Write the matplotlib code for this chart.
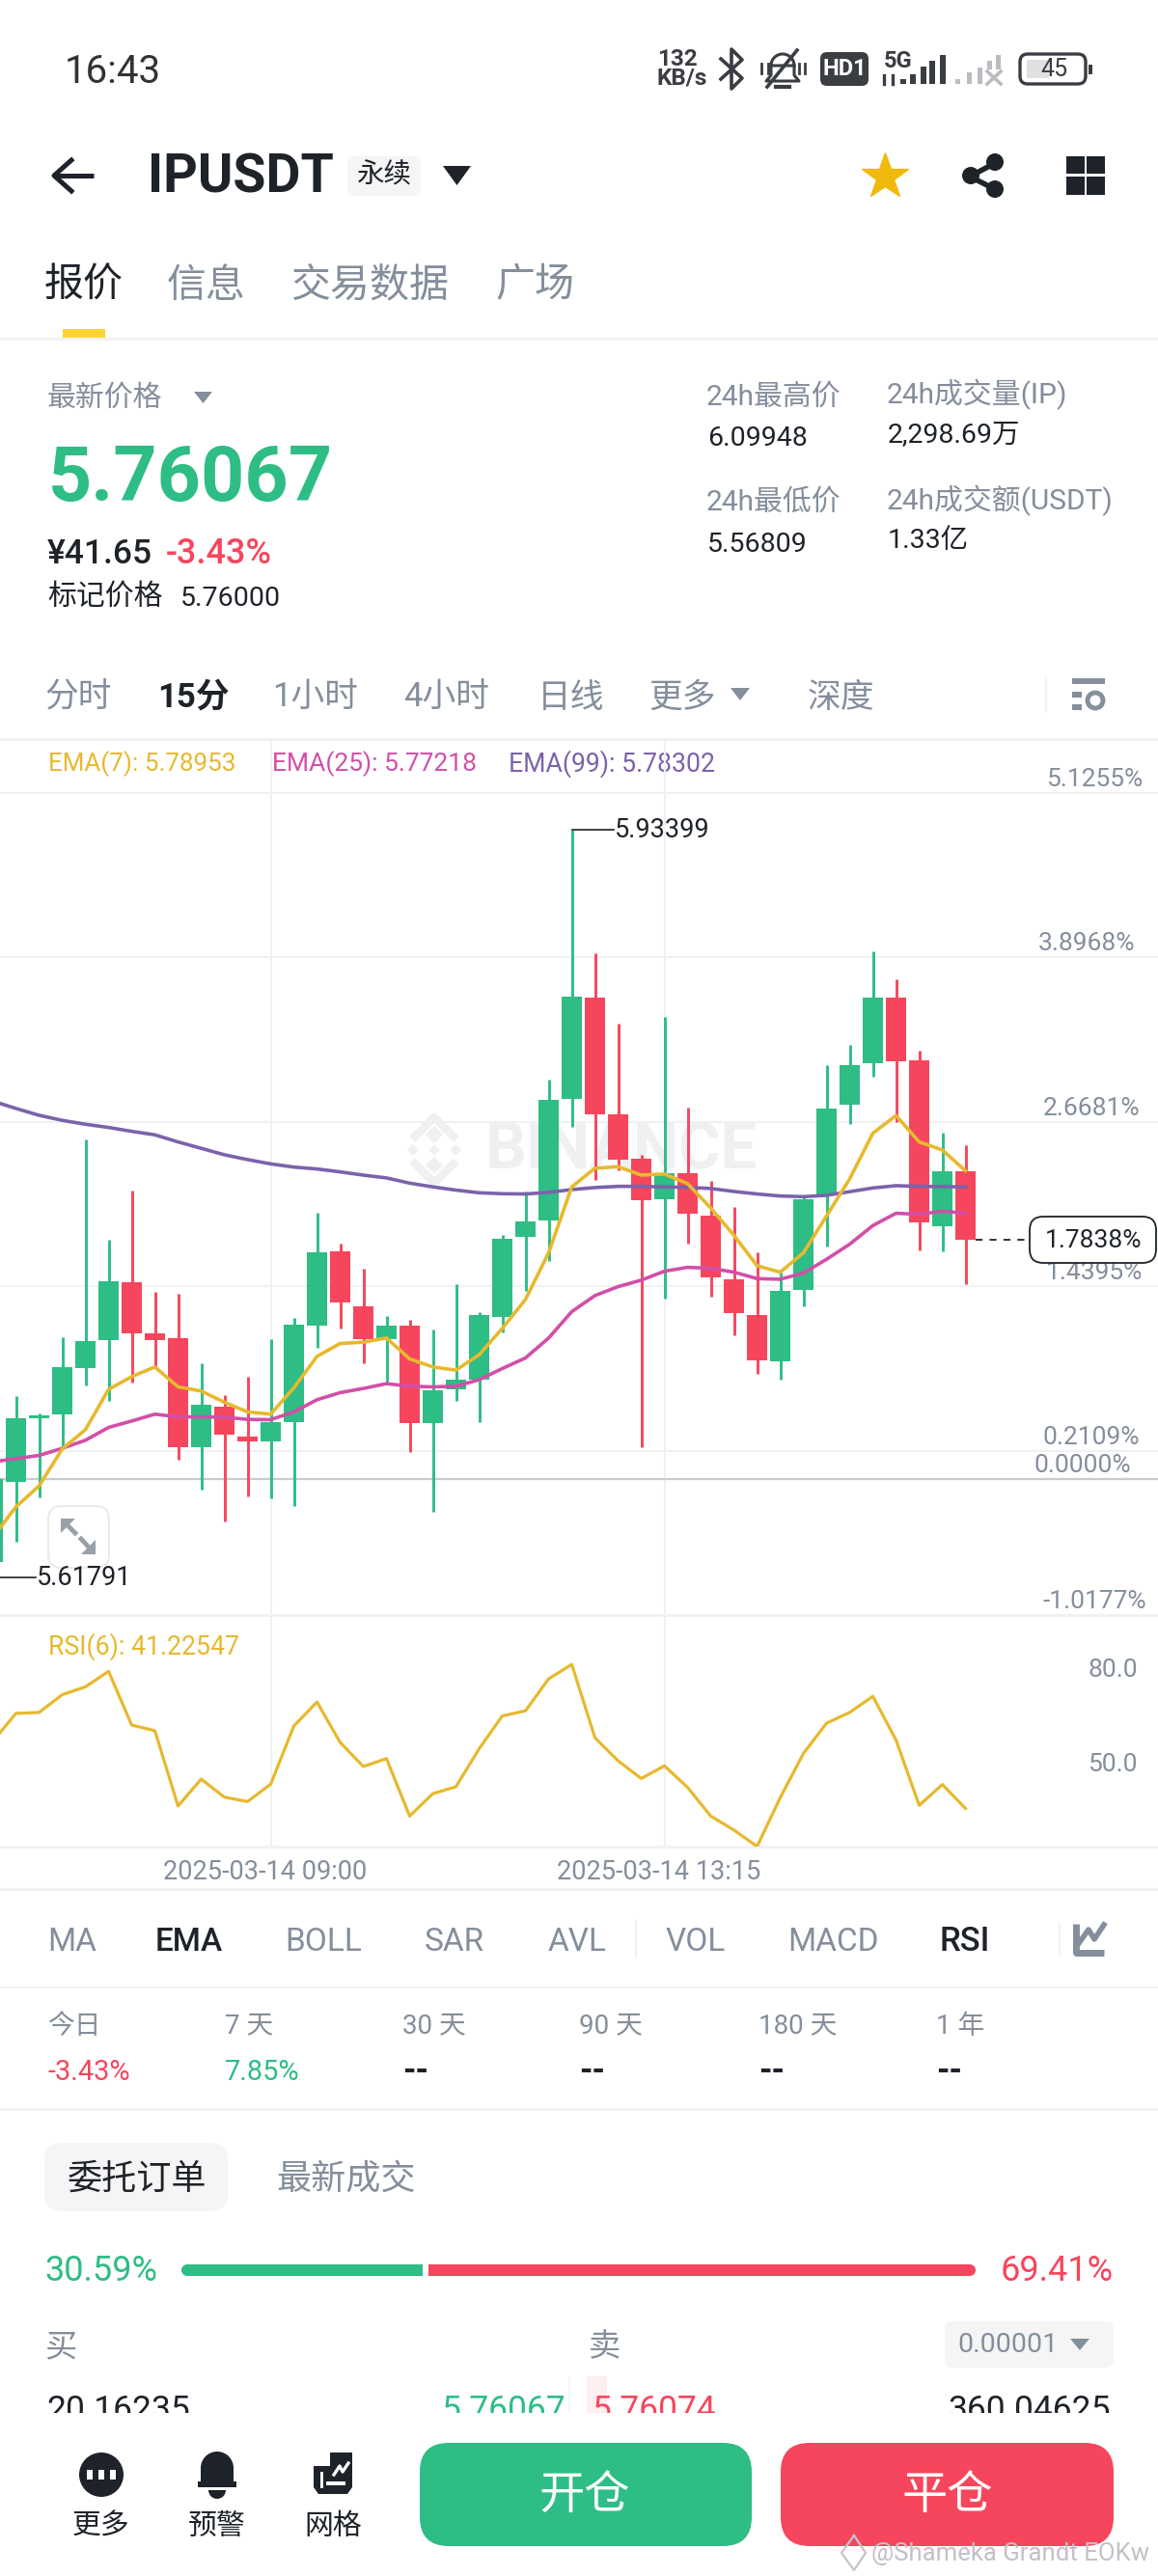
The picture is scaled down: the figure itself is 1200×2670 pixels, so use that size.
import matplotlib
matplotlib.use('Agg')
import matplotlib.pyplot as plt
from matplotlib.patches import FancyBboxPatch, Rectangle, Polygon, Circle, Wedge
from matplotlib.transforms import ScaledTranslation

plt.rcParams['font.family'] = ['Roboto', 'Noto Sans CJK SC', 'DejaVu Sans']

# candles, % change
highs = [0.05, 0.620, 0.492, 1.057, 2.536, 1.784, 2.157, 1.400, 1.383, 0.865, 0.624, 0.759, 1.047, 1.201, 1.988,
         1.758, 1.568, 1.220, 1.189, 1.119, 1.453, 1.244, 1.825, 2.145, 2.985, 4.846, 3.929, 3.401, 2.421, 3.453,
         2.776, 2.224, 2.032, 1.695, 1.544, 2.113, 3.093, 3.242, 3.938, 3.730, 3.201, 2.589, 2.493]
lows = [-0.739, -0.473, -0.137, 0.223, 0.696, 0.584, 0.716, 0.836, 0.144, -0.082, -0.317, -0.130, -0.142, -0.202, 0.980,
        1.124, 0.867, 0.720, 0.199, -0.245, 0.584, 0.427, 1.093, 1.405, 1.628, 2.632, 2.236, 2.305, 0.240, 1.345,
        1.758, 1.364, 1.071, 0.783, 0.740, 1.287, 1.734, 2.649, 3.004, 2.668, 1.707, 1.700, 1.455]
opens = [-0.622, -0.024, 0.451, 0.480, 0.824, 1.040, 1.472, 1.088, 1.052, 0.240, 0.540, 0.317, 0.279, 0.427, 1.148,
         1.700, 1.292, 1.047, 1.148, 0.415, 0.672, 0.740, 1.213, 1.808, 1.933, 2.836, 3.597, 2.726, 2.392, 2.089,
         2.281, 1.964, 1.489, 1.227, 0.879, 1.412, 2.121, 2.798, 3.105, 3.597, 3.124, 1.888, 2.301]
closes = [0.0, 0.451, 0.475, 0.836, 1.028, 1.479, 1.088, 1.037, 0.240, 0.552, 0.331, 0.279, 0.423, 1.153, 1.695,
          1.316, 1.047, 1.148, 0.415, 0.663, 0.740, 1.227, 1.792, 1.924, 2.829, 3.605, 2.726, 2.385, 2.080, 2.281,
          1.984, 1.508, 1.239, 0.884, 1.407, 2.089, 2.769, 3.088, 3.597, 3.117, 1.916, 2.301, 1.784]

ema7 = [-0.437, -0.209, -0.053, 0.223, 0.367, 0.668, 0.764, 0.836, 0.687, 0.656, 0.572, 0.500, 0.483, 0.680, 0.915,
        1.011, 1.021, 1.052, 0.896, 0.836, 0.812, 0.927, 1.124, 1.340, 1.688, 2.181, 2.320, 2.332, 2.269, 2.277,
        2.205, 2.024, 1.820, 1.592, 1.544, 1.688, 1.964, 2.241, 2.582, 2.714, 2.517, 2.457, 2.301]
ema25 = [0.127, 0.151, 0.175, 0.228, 0.288, 0.384, 0.432, 0.483, 0.463, 0.463, 0.461, 0.444, 0.442, 0.500, 0.591,
         0.644, 0.675, 0.711, 0.692, 0.687, 0.692, 0.740, 0.824, 0.903, 1.052, 1.249, 1.369, 1.436, 1.484, 1.551,
         1.580, 1.573, 1.544, 1.496, 1.491, 1.537, 1.640, 1.753, 1.892, 1.984, 1.976, 2.000, 1.984]
ema99 = [2.822, 2.767, 2.716, 2.678, 2.649, 2.625, 2.596, 2.570, 2.517, 2.469, 2.421, 2.385, 2.353, 2.329, 2.315,
         2.293, 2.269, 2.248, 2.209, 2.181, 2.157, 2.137, 2.130, 2.128, 2.140, 2.161, 2.176, 2.185, 2.185, 2.181,
         2.178, 2.169, 2.147, 2.128, 2.113, 2.108, 2.118, 2.145, 2.173, 2.190, 2.185, 2.183, 2.181]
rsi6 = [62.4, 71.3, 71.6, 77.2, 79.7, 84.6, 67.6, 65.8, 42.0, 50.5, 44.8, 43.4, 48.9, 67.3, 74.9,
        62.1, 54.5, 57.0, 38.8, 45.9, 48.1, 60.1, 70.5, 72.1, 82.2, 86.8, 63.6, 56.3, 50.7, 54.7,
        47.9, 38.8, 34.4, 29.2, 44.6, 58.6, 68.2, 71.6, 76.7, 62.9, 42.2, 48.8, 41.23]

pct_ticks = [5.1255, 3.8968, 2.6681, 1.4395, 0.2109, 0.0, -1.0177]
pct_labels = ['5.1255%', '3.8968%', '2.6681%', '1.4395%', '0.2109%', '0.0000%', '-1.0177%']
pct_label_right = [1184, 1176, 1181, 1184, 1181, 1172, 1188]
rsi_ticks = [80, 50]
time_ticks = [12, 29]
time_labels = ['2025-03-14 09:00', '2025-03-14 13:15']
last_pct = 1.7838
high_pct, high_label = 4.846, '5.93399'
low_pct, low_label = -0.739, '5.61791'

interval_tabs = ['分时', '15分', '1小时', '4小时', '日线', '更多', '深度']
interval_x = [46, 163, 282, 418, 557, 672, 837]
indicators = ['MA', 'EMA', 'BOLL', 'SAR', 'AVL', 'VOL', 'MACD', 'RSI']
indicator_x = [49, 161, 295, 440, 568, 690, 816, 974]
period_names = ['今日', '7 天', '30 天', '90 天', '180 天', '1 年']
period_values = ['-3.43%', '7.85%', '--', '--', '--', '--']
period_x = [49, 233, 417, 600, 786, 970]
buy_pct, sell_pct = 30.59, 69.41

GREEN = '#2ebd85'
RED = '#f6465d'
DARK = '#1e2329'
GREY = '#848e9c'
GRID = '#f0f1f2'
YEL = '#e6b92e'
PINK = '#d24fa8'
PURP = '#7c62ab'

fig = plt.figure(figsize=(12, 26.7), dpi=100, facecolor='white')

# page layer in screen pixels
ui = fig.add_axes([0, 0, 1, 1])
ui.set_xlim(0, 1200)
ui.set_ylim(2670, 0)
ui.axis('off')


def txt(x, y, s, size=21, color=DARK, ha='left', weight='normal', z=5, **kw):
    # +3, text boxes sit a bit high against the screenshot
    return ui.text(x, y + 3, s, fontsize=size, color=color, ha=ha, va='center', fontweight=weight, zorder=z, **kw)


def box(x0, y0, x1, y1, color, r=8, z=2, on=None, **kw):
    p = FancyBboxPatch((x0 + r, y0 + r), x1 - x0 - 2 * r, y1 - y0 - 2 * r, boxstyle='round,pad=%g,rounding_size=%g' % (r, r),
                       fc=color, ec=kw.pop('ec', 'none'), zorder=z, **kw)
    (on or ui).add_patch(p)


def tri(x0, x1, y0, y1, color):
    ui.add_patch(Polygon([(x0, y0), (x1, y0), ((x0 + x1) / 2, y1)], fc=color, ec='none', zorder=3))


def hr(y, lw=2.0, color=GRID):
    ui.plot([0, 1200], [y, y], color=color, lw=lw, zorder=1, solid_capstyle='butt')


# status bar
txt(67, 72, '16:43', size=29, color='#333333')
txt(681, 58, '132', size=17.5, color='#3a3d42', weight='bold')
txt(681, 78, 'KB/s', size=17.5, color='#3a3d42', weight='bold')
ui.plot([747, 769, 758, 758, 769, 747], [61, 81, 92, 51, 62, 82], color='#3a3d42', lw=2.6, zorder=3)
ui.add_patch(Wedge((811, 68), 12, 180, 360, fc='none', ec='#3a3d42', lw=2.2, zorder=3))
ui.plot([799, 799, 794, 828, 823, 823], [68, 78, 84, 84, 78, 68], color='#3a3d42', lw=2.2, zorder=3)
ui.plot([795, 826], [90, 52], color='#3a3d42', lw=2.6, zorder=3)
ui.plot([804, 818], [90, 90], color='#3a3d42', lw=3, zorder=3)
for sx in [789, 796, 828, 834]:
    ui.plot([sx, sx], [66, 76], color='#3a3d42', lw=2, zorder=3)
box(850, 54, 900, 89, '#3a3d42', r=7)
txt(875, 68, 'HD1', size=17, color='white', weight='bold', ha='center')
txt(916, 60, '5G', size=17, color='#3a3d42', weight='bold')
ui.plot([916, 916], [78, 87], color='#3a3d42', lw=2.4, zorder=3)
ui.plot([925, 925], [78, 87], color='#3a3d42', lw=2.4, zorder=3)
for bx, by in [(933, 82), (943, 77), (954, 69), (963, 63), (974, 57)]:
    ui.add_patch(Rectangle((bx, by), 6, 87 - by, fc='#3a3d42', ec='none', zorder=3))
for bx, by in [(990, 82), (1002, 75), (1013, 70), (1023, 63), (1032, 57)]:
    by1 = 72 if bx >= 1023 else 87
    ui.add_patch(Rectangle((bx, by), 5, by1 - by, fc='#b9bcc0', ec='none', zorder=3))
ui.plot([1023, 1037], [74, 87], color='#b9bcc0', lw=2.6, zorder=3)
ui.plot([1037, 1023], [74, 87], color='#b9bcc0', lw=2.6, zorder=3)
box(1057, 56, 1125, 87, 'white', r=8, ec='#3a3d42', lw=2.4)
ui.add_patch(Rectangle((1064, 62), 23, 19, fc='#dfe0e2', ec='none', zorder=3))
txt(1092, 69, '45', size=18, color='#3a3d42', ha='center')
ui.add_patch(Rectangle((1128, 67), 4, 10, fc='#3a3d42', ec='none', zorder=3))

# header
ui.plot([97, 58], [182, 182], color=DARK, lw=3.6, zorder=3, solid_capstyle='butt')
ui.plot([74, 56, 74], [166, 182, 198], color=DARK, lw=3.6, zorder=3)
txt(153, 181, 'IPUSDT', size=40, weight='bold')
box(360, 162, 436, 203, '#f5f5f5', r=6)
txt(398, 179, '永续', size=20.5, ha='center')
tri(459, 488, 172, 192, DARK)
ui.plot([917], [183], marker='*', ms=36, color='#f0b90b', mec='#f0b90b', zorder=3)
ui.plot([1033, 1005, 1033], [168, 183, 197], color=DARK, lw=4, zorder=3)
for cx, cy in [(1031, 168), (1006, 182), (1031, 196)]:
    ui.add_patch(Circle((cx, cy), 9, fc=DARK, ec='none', zorder=3))
for gx, gy, gh in [(1105, 162, 18), (1126, 162, 18), (1105, 183, 19), (1126, 183, 19)]:
    ui.add_patch(Rectangle((gx, gy), 19, gh, fc=DARK, ec='none', zorder=3))

# top tabs
txt(46, 293, '报价', size=29.5)
txt(173, 293, '信息', size=29.5, color=GREY)
txt(301, 293, '交易数据', size=29.5, color=GREY)
txt(513, 293, '广场', size=29.5, color=GREY)
ui.add_patch(Rectangle((65, 341), 44, 9, fc='#fcd535', ec='none', zorder=3))
hr(351, lw=2)

# price block
txt(49, 410, '最新价格', size=21.5, color=GREY)
tri(201, 220, 406, 418, GREY)
txt(50, 494, '5.76067', size=57, color=GREEN, weight='bold')
txt(49, 571, '¥41.65', size=25.5, weight='medium')
txt(172, 571, '-3.43%', size=26, color=RED, weight='medium')
txt(49, 616, '标记价格', size=21.5)
txt(187, 617, '5.76000', size=20.5)
txt(732, 409, '24h最高价', size=21.5, color=GREY)
txt(919, 406, '24h成交量(IP)', size=21.5, color=GREY)
txt(733, 452, '6.09948', size=20.5)
txt(920, 448, '2,298.69万', size=20.5)
txt(732, 518, '24h最低价', size=21.5, color=GREY)
txt(919, 516, '24h成交额(USDT)', size=21.5, color=GREY)
txt(733, 562, '5.56809', size=20.5)
txt(920, 558, '1.33亿', size=20.5)

# interval row
for name, x in zip(interval_tabs, interval_x):
    active = name == '15分'
    txt(x, 720, name, size=25, color=DARK if active else GREY, weight='bold' if active else 'normal')
tri(757, 777, 713, 726, GREY)
ui.plot([1084, 1084], [702, 738], color=GRID, lw=1.5, zorder=2)
ui.add_patch(Rectangle((1111, 703), 34, 6, fc=GREY, ec='none', zorder=3))
ui.add_patch(Rectangle((1111, 717), 10, 6, fc=GREY, ec='none', zorder=3))
ui.add_patch(Rectangle((1111, 730), 10, 6, fc=GREY, ec='none', zorder=3))
ui.add_patch(Circle((1135, 726), 8, fc='none', ec=GREY, lw=3.5, zorder=3))

# chart legend and watermark
txt(50, 789, 'EMA(7): 5.78953', size=18.7, color=YEL)
txt(282, 789, 'EMA(25): 5.77218', size=19, color=PINK)
txt(527, 789, 'EMA(99): 5.78302', size=19.2, color=PURP)
txt(50, 1704, 'RSI(6): 41.22547', size=19.2, color=YEL)
for dx, dy, s in [(450, 1176, 9), (450, 1208, 9), (428, 1192, 6), (472, 1192, 6), (450, 1192, 6)]:
    ui.add_patch(Polygon([(dx - s, dy), (dx, dy - s), (dx + s, dy), (dx, dy + s)], fc='#eef0f1', ec='none', zorder=1))
ui.plot([430, 450, 470], [1178, 1158, 1178], color='#eef0f1', lw=6, zorder=1)
ui.plot([430, 450, 470], [1206, 1226, 1206], color='#eef0f1', lw=6, zorder=1)
txt(503, 1191, 'BINANCE', size=48, color='#eef0f1', weight='bold', z=1)

# expand button
box(50, 1561, 113, 1625, 'white', r=14, ec='#e9eaec', lw=1.5)
ui.plot([66, 78], [1577, 1589], color='#9aa0a8', lw=3.5, zorder=3)
ui.plot([84, 96], [1595, 1608], color='#9aa0a8', lw=3.5, zorder=3)
ui.add_patch(Polygon([(63, 1574), (78, 1574), (63, 1589)], fc='#9aa0a8', ec='none', zorder=3))
ui.add_patch(Polygon([(99, 1611), (84, 1611), (99, 1596)], fc='#9aa0a8', ec='none', zorder=3))

# price panel, y axis is % and runs from the page px of each gridline
ax = fig.add_axes([0, 1 - 1674 / 2670, 1, (1674 - 766) / 2670], facecolor='none', zorder=2)
ax.set_xlim(0.3125, 50.3125)
ax.set_ylim(-1.0177, 5.5268)
for s in ax.spines.values():
    s.set_visible(False)
ax.spines['top'].set_visible(True)
ax.spines['top'].set_color(GRID)
ax.spines['top'].set_linewidth(2)
ax.spines['bottom'].set_visible(True)
ax.spines['bottom'].set_color(GRID)
ax.spines['bottom'].set_linewidth(2)
ax.set_yticks([t for t in pct_ticks if t != 0.0])
ax.set_xticks(time_ticks)
ax.tick_params(length=0, labelleft=False, labelbottom=False)
ax.grid(True, color=GRID, lw=1.5)
ax.set_axisbelow(True)
ax.axhline(0, color='#c8ccd1', lw=1.6, zorder=1)

xs = list(range(len(opens)))
colors = [GREEN if c >= o else RED for o, c in zip(opens, closes)]
ax.vlines(xs, lows, highs, colors=colors, lw=2.1, zorder=3)
ax.bar(xs, [c - o for o, c in zip(opens, closes)], bottom=opens, width=0.875, color=colors, zorder=3)
ax.plot(xs, ema99, color=PURP, lw=2.6, zorder=4)
ax.plot(xs, ema25, color=PINK, lw=2.6, zorder=4)
ax.plot(xs, ema7, color=YEL, lw=2.6, zorder=4)

for t, lab, rx in zip(pct_ticks, pct_labels, pct_label_right):
    ax.annotate(lab, xy=(rx / 1200, t), xycoords=ax.get_yaxis_transform(), xytext=(0, 10), textcoords='offset points',
                ha='right', va='center', fontsize=19, color=GREY, zorder=5)

# high / low marks
ax.plot([25, 26.8], [high_pct, high_pct], color=DARK, lw=1.2, zorder=5)
ax.text(26.85, high_pct, high_label, fontsize=19.5, color=DARK, va='center', zorder=6)
ax.plot([0, 1.85], [low_pct, low_pct], color=DARK, lw=1.2, zorder=5)
ax.text(1.9, low_pct, low_label, fontsize=19.5, color=DARK, va='center', zorder=6)
ax.plot([42.45, 44.8], [last_pct, last_pct], color=DARK, lw=1.3, ls=(0, (4, 4)), zorder=5)

# rsi panel
ax2 = fig.add_axes([0, 1 - 1914 / 2670, 1, (1914 - 1674) / 2670], facecolor='none', zorder=2)
ax2.set_xlim(0.3125, 50.3125)
ax2.set_ylim(29.15, 102.4)
for s in ax2.spines.values():
    s.set_visible(False)
ax2.spines['bottom'].set_visible(True)
ax2.spines['bottom'].set_color(GRID)
ax2.spines['bottom'].set_linewidth(2)
ax2.set_xticks(time_ticks)
ax2.set_xticklabels(time_labels, fontsize=19.5, color=GREY)
ax2.set_yticks([])
ax2.tick_params(length=0, pad=9)
ax2.grid(True, axis='x', color=GRID, lw=1.5)
ax2.set_axisbelow(True)
shift = ScaledTranslation(-0.055, 0, fig.dpi_scale_trans)
for lab in ax2.get_xticklabels():
    lab.set_transform(lab.get_transform() + shift)
ax2.plot(xs, rsi6, color=YEL, lw=2.3, zorder=3)
for t in rsi_ticks:
    ax2.annotate('%.1f' % t, xy=(1179 / 1200, t), xycoords=ax2.get_yaxis_transform(), xytext=(0, 12), textcoords='offset points',
                 ha='right', va='center', fontsize=19, color=GREY)

# last price tag sits over the panels
tag = fig.add_axes([0, 0, 1, 1], facecolor='none', zorder=3)
tag.set_xlim(0, 1200)
tag.set_ylim(2670, 0)
tag.axis('off')
box(1067, 1261, 1198, 1309, 'white', r=14, on=tag, ec=DARK, lw=1.3)
tag.text(1133, 1286, '1.7838%', fontsize=19, color=DARK, ha='center', va='center', zorder=4)

hr(1958, lw=2.4)

# indicator row
for name, x in zip(indicators, indicator_x):
    active = name in ('EMA', 'RSI')
    txt(x, 2010, name, size=25 if name == 'RSI' else 24, color=DARK if active else GREY, weight='medium' if active else 'normal')
ui.plot([659, 659], [1991, 2028], color=GRID, lw=1.5, zorder=2)
ui.plot([1098, 1098], [1994, 2026], color=GRID, lw=1.5, zorder=2)
ui.plot([1115, 1115, 1144], [1994, 2024, 2024], color=GREY, lw=5, zorder=3, solid_capstyle='butt')
ui.plot([1118, 1128, 1134, 1144], [2014, 2000, 2010, 1995], color=GREY, lw=4, zorder=3)
hr(2060, lw=1.5)

# periods
for name, val, x in zip(period_names, period_values, period_x):
    txt(x, 2097, name, size=20, color=GREY)
    col = RED if val.startswith('-3') else GREEN if val == '7.85%' else DARK
    txt(x, 2145, val, size=25 if val == '--' else 20.8, color=col, weight='bold' if val == '--' else 'normal')
hr(2186, lw=2)

# order book
box(46, 2221, 236, 2292, '#f5f5f5', r=18)
txt(70, 2256, '委托订单', size=26)
txt(286, 2256, '最新成交', size=26, color=GREY)

bar_x0, bar_x1, gap = 188, 1011, 6
split = bar_x0 + (bar_x1 - bar_x0 - gap) * buy_pct / (buy_pct + sell_pct)
txt(46, 2351, '%.2f%%' % buy_pct, size=26, color=GREEN)
ui.add_patch(Rectangle((bar_x0 + 6, 2347), split - bar_x0 - 6, 12, fc=GREEN, ec='none', zorder=3))
ui.add_patch(Circle((bar_x0 + 6, 2353), 6, fc=GREEN, ec='none', zorder=3))
ui.add_patch(Rectangle((split + gap, 2347), bar_x1 - 6 - split - gap, 12, fc=RED, ec='none', zorder=3))
ui.add_patch(Circle((bar_x1 - 6, 2353), 6, fc=RED, ec='none', zorder=3))
txt(1154, 2351, '%.2f%%' % sell_pct, size=26, color=RED, ha='right')

txt(46, 2430, '买', size=24, color=GREY)
txt(610, 2430, '卖', size=24, color=GREY)
box(979, 2406, 1154, 2454, '#f5f5f5', r=8)
txt(992, 2428, '0.00001', size=20.5, color=GREY)
tri(1109, 1129, 2424, 2436, GREY)

ui.add_patch(Rectangle((608, 2463), 21, 40, fc='#fdeef0', ec='none', zorder=2))
ui.add_patch(Rectangle((589, 2463), 2, 40, fc='#f1f8f5', ec='none', zorder=2))
txt(48, 2495, '20.16235', size=25.5)
txt(457, 2495, '5.76067', size=25.5, color=GREEN)
txt(613, 2495, '5.76074', size=25.5, color=RED)
txt(1151, 2495, '360.04625', size=25.5, ha='right')

# footer covers the cut off row
ui.add_patch(Rectangle((0, 2501), 1200, 169, fc='white', ec='none', zorder=6))
ui.add_patch(Circle((105, 2565), 23, fc=DARK, ec='none', zorder=7))
for dx in [93, 105, 117]:
    ui.add_patch(Rectangle((dx - 3, 2560), 6, 10, fc='white', ec='none', zorder=8))
ui.add_patch(Circle((225, 2558), 17, fc=DARK, ec='none', zorder=7))
ui.add_patch(Rectangle((208, 2558), 34, 18, fc=DARK, ec='none', zorder=7))
ui.add_patch(Rectangle((205, 2572), 40, 6, fc=DARK, ec='none', zorder=7))
ui.add_patch(Wedge((225, 2581), 9, 0, 180, fc=DARK, ec='none', zorder=7))
ui.add_patch(Polygon([(342, 2542), (365, 2542), (365, 2578), (360, 2585), (330, 2585), (325, 2578), (325, 2556), (342, 2556)], fc=DARK, ec='none', zorder=7))
ui.plot([346, 352, 355, 361], [2565, 2556, 2562, 2553], color='white', lw=2.4, zorder=8)
ui.add_patch(Rectangle((332, 2562), 3, 17, fc='white', ec='none', zorder=8))
ui.add_patch(Rectangle((338, 2572), 20, 4, fc='white', ec='none', zorder=8))
txt(105, 2616, '更多', size=21.5, ha='center', z=7)
txt(225, 2616, '预警', size=21.5, ha='center', z=7)
txt(345, 2616, '网格', size=21.5, ha='center', z=7)
box(435, 2532, 779, 2639, GREEN, r=30, z=7)
box(809, 2532, 1154, 2639, RED, r=30, z=7)
txt(606, 2584, '开仓', size=34, color='white', ha='center', z=8)
txt(982, 2584, '平仓', size=34, color='white', ha='center', z=8)

# screenshot watermark
ui.plot([885, 872, 885, 897, 885], [2628, 2646, 2664, 2646, 2628], color='#c2c5ca', lw=1.6, zorder=9)
txt(903, 2644, '@Shameka Grandt EOKw', size=18.5, color='#bfc2c7', z=9)

fig.savefig('out.png', dpi=100, facecolor='white')
